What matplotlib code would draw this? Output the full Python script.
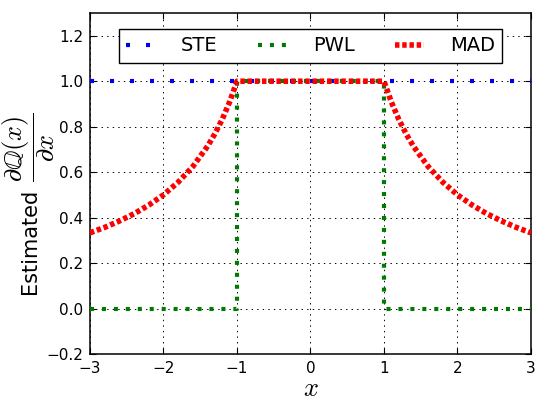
import matplotlib
matplotlib.use("Agg")
import matplotlib.pyplot as plt

# data
ste_x = [-3.0, 3.0]
ste_y = [1.0, 1.0]

pwl_x = [-3.0, -1.0, -1.0, 1.0, 1.0, 3.0]
pwl_y = [0.0, 0.0, 1.0, 1.0, 0.0, 0.0]

mad_x = [-3.0, -2.8, -2.6, -2.4, -2.2, -2.0, -1.8, -1.6, -1.4, -1.3, -1.2, -1.1, -1.0,
         1.0, 1.1, 1.2, 1.3, 1.4, 1.6, 1.8, 2.0, 2.2, 2.4, 2.6, 2.8, 3.0]
mad_y = [0.333, 0.357, 0.385, 0.417, 0.455, 0.500, 0.556, 0.625, 0.714, 0.769, 0.833, 0.909, 1.0,
         1.0, 0.909, 0.833, 0.769, 0.714, 0.625, 0.556, 0.500, 0.455, 0.417, 0.385, 0.357, 0.333]

xticks = [-3, -2, -1, 0, 1, 2, 3]
yticks = [-0.2, 0.0, 0.2, 0.4, 0.6, 0.8, 1.0, 1.2]

plt.rcParams['lines.scale_dashes'] = False
plt.rcParams['font.family'] = ['DejaVu Sans']
plt.rcParams['mathtext.fontset'] = 'cm'

fig = plt.figure(figsize=(5.47, 4.12), dpi=100)
ax = fig.add_axes([0.1645, 0.1408, 0.8062, 0.8276])

ax.plot(ste_x, ste_y, color='#0000ee', lw=3, linestyle=(0, (2.9, 11.5)), label='STE', zorder=3)
ax.plot(pwl_x, pwl_y, color='#007a00', lw=3, linestyle=(0, (2.9, 5.7)), label='PWL', zorder=4)
ax.plot(mad_x, mad_y, color='#ff0000', lw=4, linestyle=(0, (3.2, 2.0)), label='MAD', zorder=5)

ax.set_xlim(-3, 3)
ax.set_ylim(-0.2, 1.3)
ax.set_xticks(xticks)
ax.set_yticks(yticks)
ax.set_yticklabels([f"{v:.1f}".replace('-', '\u2212') for v in yticks])
ax.grid(True, color='k', linestyle=(0, (1, 3)), lw=0.7)
ax.tick_params(direction='in', top=True, right=True, length=4, labelsize=11, pad=5)
for s in ax.spines.values():
    s.set_linewidth(1.1)

ax.set_xlabel('$x$', fontsize=19, labelpad=0)

# y label: plain word plus a larger fraction
ax.text(-0.136, 0.331, 'Estimated', rotation=90, fontsize=15,
        ha='center', va='center', transform=ax.transAxes)
ax.text(-0.138, 0.605, r'$\dfrac{\partial \mathbb{Q}(x)}{\partial x}$', rotation=90, fontsize=19,
        ha='center', va='center', transform=ax.transAxes)

leg = ax.legend(loc='upper center', ncol=3, fontsize=14, fancybox=False, framealpha=1,
                edgecolor='k', handlelength=1.5, handletextpad=1.3, columnspacing=2.1,
                borderaxespad=0.8, bbox_to_anchor=(0.5, 1.0))
leg.get_frame().set_linewidth(1.0)

fig.savefig('out.png', dpi=100)
